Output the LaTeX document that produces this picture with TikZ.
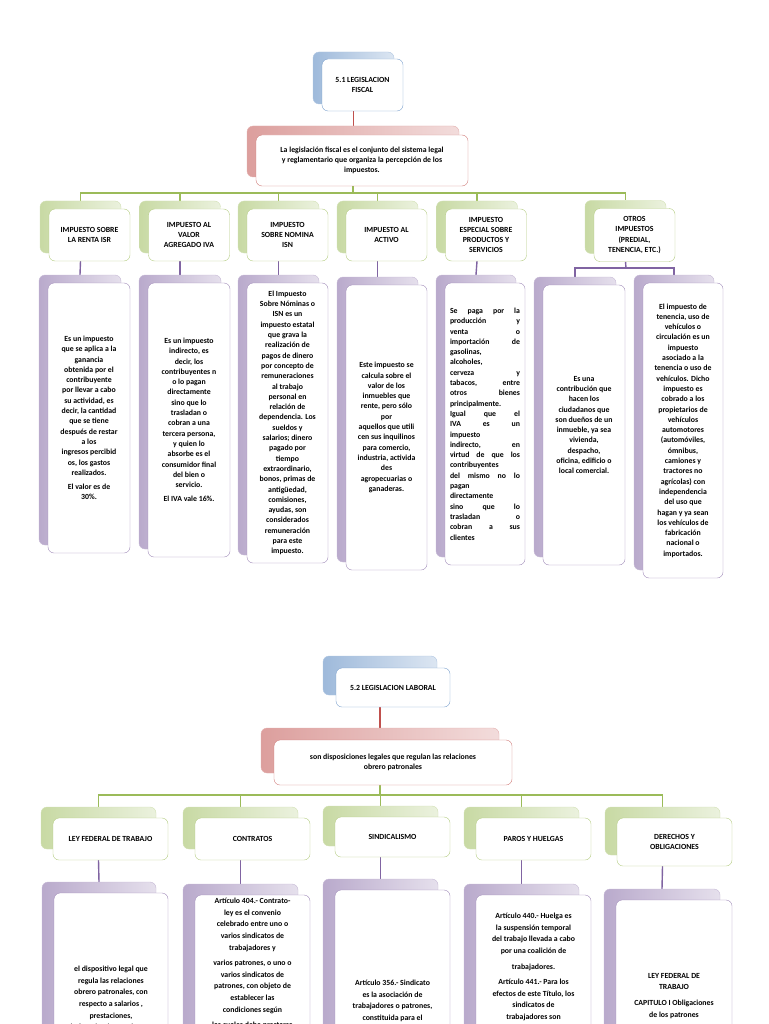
\documentclass[tikz,border=0pt]{standalone}
\usepackage{fontspec}
\setmainfont{Carlito}
\usetikzlibrary{backgrounds}
\definecolor{gcol}{HTML}{9BBB59}
\definecolor{pcol}{HTML}{8064A2}
\definecolor{rcol}{HTML}{C0504D}
\definecolor{bcol}{HTML}{4F81BD}
\newcommand\tf{\fontsize{7.8}{10.3}\selectfont\bfseries}
\newcommand\btf{\fontsize{7.8}{11.6}\selectfont\bfseries}
\newcommand\jline[1]{\makebox[70pt][s]{#1}}
\newcommand\lline[1]{\makebox[70pt][l]{#1}}
\tikzset{
  back/.style={rounded corners=6pt, left color=#1!55, right color=#1!20, draw=#1!45, inner sep=0pt},
  front/.style={rounded corners=6pt, fill=white, draw=#1!75, align=center, inner sep=1pt, font=\tf},
  gl/.style={draw=gcol, line width=1.4pt},
  pl/.style={draw=pcol, line width=1.4pt},
  rl/.style={draw=rcol, line width=1.2pt},
  txt/.style={align=center, font=\btf, inner sep=0pt, anchor=north}
}
\newcommand\card[9]{%
  \node[back=#6, minimum width=#4pt, minimum height=#5pt] (#1b) at (#2-#7,#3-#8) {};
  \node[front=#6, minimum width=#4pt, minimum height=#5pt] (#1) at (#2,#3) {#9};}
\begin{document}
\begin{tikzpicture}[x=1pt,y=-1pt]
\useasboundingbox (0,0) rectangle (768,1024);
\clip (0,0) rectangle (768,1024);
% ---------- section 1 ----------
\card{t1}{362.5}{85}{81}{52}{bcol}{9}{7}{5.1 LEGISLACION\\FISCAL}
\card{r1}{362}{160.5}{212}{51}{rcol}{9}{9}{La legislación fiscal es el conjunto del sistema legal\\y reglamentario que organiza la percepción de los\\impuestos.}
\card{g1}{89.5}{235}{81}{52}{gcol}{9}{8}{IMPUESTO SOBRE\\LA RENTA ISR}
\card{g2}{189}{235}{81}{52}{gcol}{9}{8}{IMPUESTO AL\\VALOR\\AGREGADO IVA}
\card{g3}{287.5}{235}{81}{52}{gcol}{9}{8}{IMPUESTO\\SOBRE NOMINA\\ISN}
\card{g4}{386.5}{235}{81}{52}{gcol}{9}{8}{IMPUESTO AL\\ACTIVO}
\card{g5}{486}{235}{81}{52}{gcol}{9}{8}{IMPUESTO\\ESPECIAL SOBRE\\PRODUCTOS Y\\SERVICIOS}
\card{g6}{634.5}{235}{81}{53}{gcol}{9}{8}{OTROS\\IMPUESTOS\\(PREDIAL,\\TENENCIA, ETC.)}
\card{p1}{89}{418}{82}{270}{pcol}{9}{8}{Es un impuesto\\que se aplica a la\\ganancia\\obtenida por el\\contribuyente\\por llevar a cabo\\su actividad, es\\decir, la cantidad\\que se tiene\\después de restar\\a los\\ingresos percibid\\os, los gastos\\realizados.\\[4pt]El valor es de\\30\%.}
\card{p2}{189}{420}{82}{274}{pcol}{9}{8}{Es un impuesto\\indirecto, es\\decir, los\\contribuyentes n\\o lo pagan\\directamente\\sino que lo\\trasladan o\\cobran a una\\tercera persona,\\y quien lo\\absorbe es el\\consumidor final\\del bien o\\servicio.\\[4pt]El IVA vale 16\%.}
\card{p3}{287.5}{423}{81}{280}{pcol}{9}{8}{El Impuesto\\Sobre Nóminas o\\ISN es un\\impuesto estatal\\que grava la\\realización de\\pagos de dinero\\por concepto de\\remuneraciones\\al trabajo\\personal en\\relación de\\dependencia. Los\\sueldos y\\salarios; dinero\\pagado por\\tiempo\\extraordinario,\\bonos, primas de\\antigüedad,\\comisiones,\\ayudas, son\\considerados\\remuneración\\para este\\impuesto.}
\card{p4}{386.5}{427.5}{81}{285}{pcol}{9}{8}{Este impuesto se\\calcula sobre el\\valor de los\\inmuebles que\\rente, pero sólo\\por\\aquellos que utili\\cen sus inquilinos\\para comercio,\\industria, activida\\des\\agropecuarias o\\ganaderas.}
\card{p5}{485}{424}{80}{282}{pcol}{9}{8}{\jline{Se paga por la}\\\jline{producción y}\\\jline{venta o}\\\jline{importación de}\\\lline{gasolinas,}\\\lline{alcoholes,}\\\jline{cerveza y}\\\jline{tabacos, entre}\\\jline{otros bienes}\\\lline{principalmente.}\\\jline{Igual que el}\\\jline{IVA es un}\\\lline{impuesto}\\\jline{indirecto, en}\\\jline{virtud de que los}\\\lline{contribuyentes}\\\jline{del mismo no lo}\\\lline{pagan}\\\lline{directamente}\\\jline{sino que lo}\\\jline{trasladan o}\\\jline{cobran a sus}\\\lline{clientes}}
\card{p6}{584}{425}{82}{280}{pcol}{9}{8}{Es una\\contribución que\\hacen los\\ciudadanos que\\son dueños de un\\inmueble, ya sea\\vivienda,\\despacho,\\oficina, edificio o\\local comercial.}
\card{p7}{683}{430.5}{80}{295}{pcol}{9}{8}{El impuesto de\\tenencia, uso de\\vehículos o\\circulación es un\\impuesto\\asociado a la\\tenencia o uso de\\vehículos. Dicho\\impuesto es\\cobrado a los\\propietarios de\\vehículos\\automotores\\(automóviles,\\ómnibus,\\camiones y\\tractores no\\agrícolas) con\\independencia\\del uso que\\hagan y ya sean\\los vehículos de\\fabricación\\nacional o\\importados.}
% ---------- section 2 ----------
\card{t2}{393}{687.5}{114}{39}{bcol}{13}{12}{5.2 LEGISLACION LABORAL}
\card{r2}{393}{762.5}{238}{45}{rcol}{13}{12}{son disposiciones legales que regulan las relaciones\\obrero patronales}
\card{q1}{110.5}{839}{115}{42}{gcol}{12}{11}{LEY FEDERAL DE TRABAJO}
\card{q2}{252.5}{839}{115}{42}{gcol}{12}{11}{CONTRATOS}
\card{q3}{392.5}{837}{115}{40}{gcol}{12}{11}{SINDICALISMO}
\card{q4}{533.5}{839}{115}{42}{gcol}{12}{11}{PAROS Y HUELGAS}
\card{q5}{674.5}{842}{115}{48}{gcol}{12}{11}{DERECHOS Y\\OBLIGACIONES}
\card{s1}{111}{981.5}{114}{177}{pcol}{12}{11}{}
\card{s2}{252.5}{982.5}{115}{175}{pcol}{12}{11}{}
\card{s3}{392.5}{980}{115}{180}{pcol}{12}{11}{}
\card{s4}{533.5}{982.5}{115}{175}{pcol}{12}{11}{}
\card{s5}{674}{985}{116}{170}{pcol}{12}{11}{}
\node[txt] (x1) at (111,966) {el dispositivo legal que\\regula las relaciones\\obrero patronales, con\\respecto a salarios ,\\prestaciones,\\indemnizaciones, riesgos};
\node[txt] (x2) at (252.5,898) {Artículo 404.- Contrato-\\ley es el convenio\\celebrado entre uno o\\varios sindicatos de\\trabajadores y\\[4pt]varios patrones, o uno o\\varios sindicatos de\\patrones, con objeto de\\establecer las\\condiciones según\\[4pt]las cuales debe prestarse};
\node[txt] (x3) at (392.5,980) {Artículo 356.- Sindicato\\es la asociación de\\trabajadores o patrones,\\constituida para el};
\node[txt] (x4) at (533.5,913) {Artículo 440.- Huelga es\\la suspensión temporal\\del trabajo llevada a cabo\\por una coalición de\\[4pt]trabajadores.\\[4pt]Artículo 441.- Para los\\efectos de este Título, los\\sindicatos de\\trabajadores son\\coaliciones};
\node[txt] (x5) at (674,973) {LEY FEDERAL DE\\TRABAJO\\[4pt]CAPITULO I Obligaciones\\de los patrones};
% ---------- connectors ----------
\begin{scope}[on background layer]
\coordinate (bar1) at (353,193);
\coordinate (bar2) at (626,268);
\coordinate (bar3) at (380,795);
\draw[rl] (t1b.center |- t1.south) -- (t1b.center |- r1.north);
\draw[gl] (r1b.center |- r1.south) -- (bar1);
\foreach \i in {1,...,6} \draw[gl] (bar1) -| (g\i b.north);
\foreach \i in {1,...,5} \draw[pl] (g\i b.center |- g\i.south) -- (p\i b.north);
\draw[pl] (g6b.center |- g6.south) -- (bar2);
\draw[pl] (bar2) -| (p6b.north);
\draw[pl] (bar2) -| (p7b.north);
\draw[rl] (t2b.center |- t2.south) -- (t2b.center |- r2.north);
\draw[gl] (r2b.center |- r2.south) -- (bar3);
\foreach \i in {1,...,5} \draw[gl] (bar3) -| (q\i b.north);
\foreach \i in {1,...,5} \draw[pl] (q\i b.center |- q\i.south) -- (s\i b.north);
\end{scope}
\end{tikzpicture}
\end{document}
